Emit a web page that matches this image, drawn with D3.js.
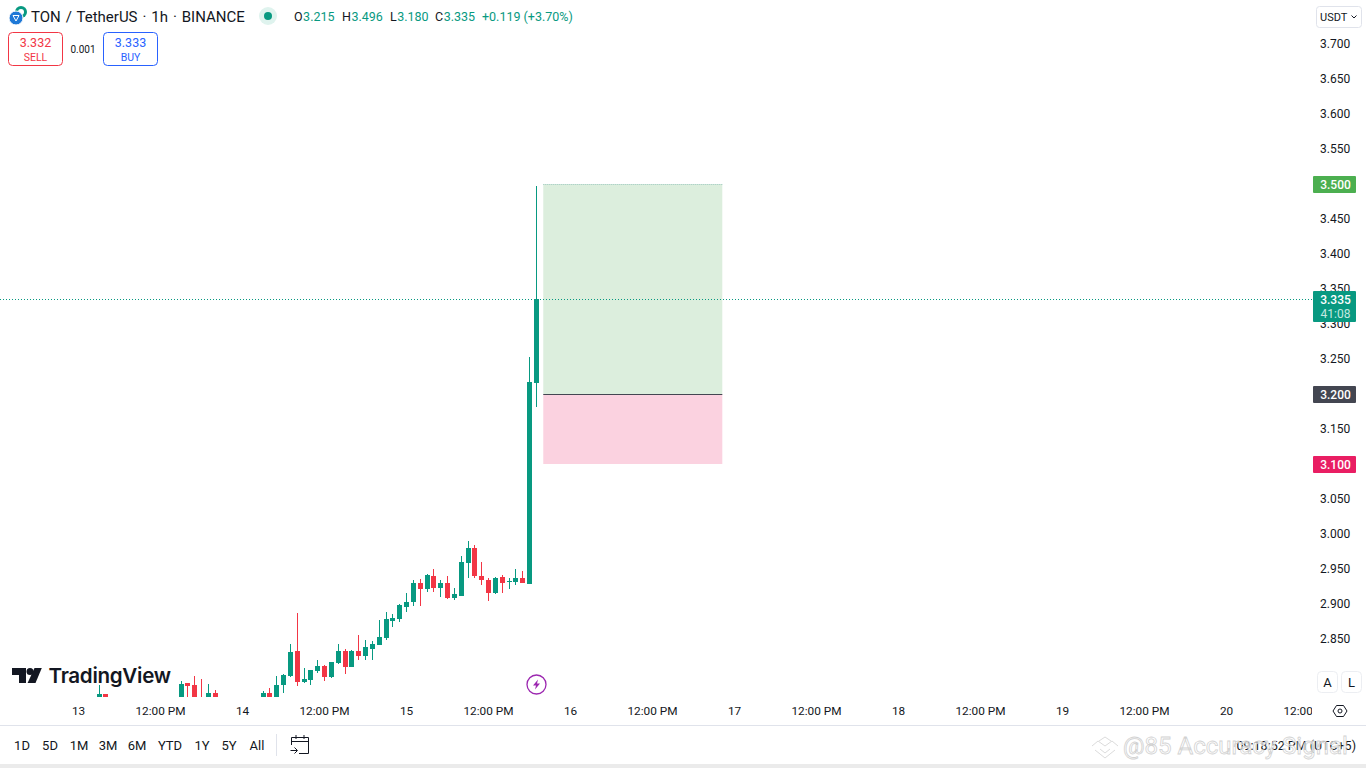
<!DOCTYPE html>
<html>
<head>
<meta charset="utf-8">
<script src="https://cdnjs.cloudflare.com/ajax/libs/d3/7.8.5/d3.min.js"></script>
<style>
  html, body { margin: 0; padding: 0; background: #fff; overflow: hidden; }
  svg { display: block; }
  text { font-family: Roboto, "Liberation Sans", sans-serif; }
</style>
</head>
<body>
<script>
// hours counted from 13th 00:00, only the candles that show above the time axis
const hours  = [3,4,15,16,17,18,19,20,27,28,29,30,31,32,33,34,35,36,37,38,39,40,41,42,43,44,45,46,47,48,49,50,51,52,53,54,55,56,57,58,59,60,61,62,63,64,65,66,67];
const opens  = [2.760,2.771,2.755,2.786,2.784,2.762,2.760,2.772,2.760,2.772,2.760,2.784,2.796,2.832,2.788,2.791,2.804,2.811,2.795,2.815,2.832,2.809,2.832,2.825,2.835,2.841,2.851,2.875,2.878,2.895,2.902,2.929,2.921,2.939,2.922,2.929,2.908,2.911,2.958,2.979,2.939,2.934,2.915,2.938,2.931,2.931,2.936,2.928,3.215];
const highs  = [2.784,2.771,2.789,2.786,2.796,2.792,2.785,2.776,2.775,2.779,2.796,2.799,2.842,2.886,2.808,2.805,2.819,2.812,2.816,2.842,2.835,2.834,2.855,2.848,2.846,2.876,2.888,2.885,2.899,2.915,2.934,2.935,2.942,2.949,2.934,2.939,2.922,2.968,2.989,2.984,2.959,2.936,2.938,2.941,2.936,2.949,2.946,3.252,3.496];
const lows   = [2.755,2.755,2.750,2.760,2.750,2.750,2.755,2.755,2.755,2.755,2.755,2.772,2.795,2.782,2.786,2.784,2.801,2.789,2.794,2.814,2.799,2.809,2.819,2.819,2.820,2.841,2.848,2.866,2.874,2.888,2.896,2.896,2.916,2.916,2.909,2.906,2.905,2.911,2.936,2.936,2.926,2.903,2.914,2.915,2.921,2.926,2.929,2.928,3.180];
const closes = [2.771,2.760,2.785,2.782,2.760,2.755,2.772,2.760,2.772,2.760,2.784,2.798,2.831,2.788,2.792,2.805,2.811,2.795,2.816,2.832,2.809,2.832,2.825,2.838,2.842,2.852,2.878,2.879,2.898,2.902,2.929,2.921,2.941,2.922,2.929,2.908,2.914,2.959,2.979,2.939,2.934,2.915,2.936,2.929,2.932,2.936,2.929,3.216,3.335];

const priceTicks = [2.85,2.90,2.95,3.00,3.05,3.10,3.15,3.20,3.25,3.30,3.35,3.40,3.45,3.50,3.55,3.60,3.65,3.70];
const timeTicks  = [0,12,24,36,48,60,72,84,96,108,120,132,144,156,168,180];
const timeLabels = ["13","12:00 PM","14","12:00 PM","15","12:00 PM","16","12:00 PM","17","12:00 PM","18","12:00 PM","19","12:00 PM","20","12:00 PM"];

const boxStart = 68, boxEnd = 94.2;
const entry = 3.2, target = 3.5, stop = 3.1, last = 3.335;
const rangeLabels = ["1D","5D","1M","3M","6M","YTD","1Y","5Y","All"];
const rangeX = [22,50,79,108,137,170,202,229,257];

const UP = "#089981", DOWN = "#f23645";

const svg = d3.select("body").append("svg").attr("width", 1366).attr("height", 768);

const x = d3.scaleLinear().domain([0, 24]).range([78.6, 242.6]);
const y = d3.scaleLinear().domain([2.85, 3.7]).range([638.5, 43.5]);
const py = v => Math.round(y(v) + 0.01);

svg.append("clipPath").attr("id", "pane").append("rect").attr("width", 1312).attr("height", 697);
svg.append("clipPath").attr("id", "timeclip").append("rect").attr("y", 697).attr("width", 1312).attr("height", 28);

const pane = svg.append("g").attr("clip-path", "url(#pane)");

// position tool
pane.append("rect").attr("x", x(boxStart)).attr("width", x(boxEnd) - x(boxStart))
  .attr("y", py(target)).attr("height", py(entry) - py(target)).attr("fill", "#dceedd");
pane.append("rect").attr("x", x(boxStart)).attr("width", x(boxEnd) - x(boxStart))
  .attr("y", py(entry)).attr("height", py(stop) - py(entry)).attr("fill", "#fbd2e0");
pane.append("line").attr("x1", x(boxStart)).attr("x2", x(boxEnd))
  .attr("y1", py(target) + .5).attr("y2", py(target) + .5)
  .attr("stroke", "#9fc9c0").attr("stroke-dasharray", "1 1");
pane.append("line").attr("x1", x(boxStart)).attr("x2", x(boxEnd))
  .attr("y1", py(entry) + .5).attr("y2", py(entry) + .5)
  .attr("stroke", "#434651");

// last price line
pane.append("line").attr("x1", 0).attr("x2", 1312)
  .attr("y1", Math.floor(y(last)) + .5).attr("y2", Math.floor(y(last)) + .5)
  .attr("stroke", UP).attr("stroke-dasharray", "1 2");

const candles = hours.map((h, i) => ({ h, o: opens[i], hi: highs[i], lo: lows[i], c: closes[i] }));
const color = d => d.c >= d.o ? UP : DOWN;

pane.selectAll("line.wick").data(candles).enter().append("line")
  .attr("class", "wick")
  .attr("x1", d => Math.floor(x(d.h)) + .5)
  .attr("x2", d => Math.floor(x(d.h)) + .5)
  .attr("y1", d => Math.round(y(d.hi)))
  .attr("y2", d => Math.round(y(d.lo)))
  .attr("stroke", color);

pane.selectAll("rect.body").data(candles).enter().append("rect")
  .attr("class", "body")
  .attr("x", d => Math.floor(x(d.h)) - 2)
  .attr("width", 5)
  .attr("y", d => Math.round(y(Math.max(d.o, d.c))))
  .attr("height", d => Math.max(1, Math.round(y(Math.min(d.o, d.c))) - Math.round(y(Math.max(d.o, d.c)))))
  .attr("fill", color);

// logo
const logo = svg.append("g").attr("fill", "#131722");
logo.append("path").attr("d", "M12 668H26V683H19V675H12Z");
logo.append("circle").attr("cx", 30).attr("cy", 671.5).attr("r", 3.5);
logo.append("path").attr("d", "M34.5 668H41.8L35.5 683H27.6Z");
logo.append("text").attr("x", 48.5).attr("y", 683).attr("font-size", 20.6).attr("font-weight", 600)
  .style("font-family", "Inter").attr("letter-spacing", -0.3).text("TradingView");

// lightning badge
const bolt = svg.append("g").attr("transform", "translate(536.5,684.5)");
bolt.append("circle").attr("r", 9.5).attr("fill", "#fff").attr("stroke", "#9c27b0").attr("stroke-width", 1.3);
bolt.append("path").attr("d", "M1.5 -5L-3.5 1H-0.5L-1.5 5L3.5 -1H0.5Z").attr("fill", "#9c27b0");

// axes
const yAxis = d3.axisRight(y).tickValues(priceTicks).tickSize(0).tickPadding(0).tickFormat(d3.format(".3f"));
const gy = svg.append("g").attr("transform", "translate(1320,0)").call(yAxis);
gy.select(".domain").remove();
gy.selectAll("text").attr("font-size", 12).attr("fill", "#131722").style("font-family", "Roboto");

const xAxis = d3.axisBottom(x).tickValues(timeTicks).tickSize(0).tickPadding(0)
  .tickFormat((d, i) => timeLabels[i]);
const gx = svg.append("g").attr("clip-path", "url(#timeclip)")
  .append("g").attr("transform", "translate(-0.6,707)").call(xAxis);
gx.select(".domain").remove();
gx.selectAll("text").attr("font-size", 11.8).attr("fill", "#131722").style("font-family", "Roboto");

// price tags
function tag(price, label, fill) {
  const yy = py(price);
  svg.append("rect").attr("x", 1313).attr("y", yy - 8).attr("width", 43).attr("height", 17).attr("rx", 1).attr("fill", fill);
  svg.append("text").attr("x", 1335.5).attr("y", yy + 4.5).attr("text-anchor", "middle")
    .attr("font-size", 12).attr("font-weight", 500).attr("fill", "#fff").text(label);
}
tag(target, "3.500", "#4caf50");
tag(entry, "3.200", "#434651");
tag(stop, "3.100", "#e91e63");

svg.append("rect").attr("x", 1313).attr("y", 291).attr("width", 43).attr("height", 31).attr("rx", 1).attr("fill", UP);
svg.append("text").attr("x", 1335.5).attr("y", 304).attr("text-anchor", "middle").attr("font-size", 12).attr("font-weight", 500).attr("fill", "#fff").text("3.335");
svg.append("text").attr("x", 1335.5).attr("y", 318).attr("text-anchor", "middle").attr("font-size", 12).attr("fill", "#c4e8e0").text("41:08");

// USDT button
svg.append("rect").attr("x", 1316.5).attr("y", 6.5).attr("width", 45).attr("height", 21).attr("rx", 3).attr("fill", "#fff").attr("stroke", "#e0e3eb");
svg.append("text").attr("x", 1320).attr("y", 21).attr("font-size", 11).attr("fill", "#131722").text("USDT");
svg.append("path").attr("d", "M1351.5 15.5L1354 18L1356.5 15.5").attr("fill", "none").attr("stroke", "#131722");

// A / L buttons
[["A", 1317], ["L", 1341]].forEach(([t, bx]) => {
  svg.append("rect").attr("x", bx + .5).attr("y", 671.5).attr("width", 20).attr("height", 21).attr("rx", 4).attr("fill", "#fff").attr("stroke", "#eceef2");
  svg.append("text").attr("x", bx + 10.5).attr("y", 686.5).attr("text-anchor", "middle").attr("font-size", 13).attr("fill", "#131722").text(t);
});

// settings hexagon
const gear = svg.append("g").attr("transform", "translate(1340,711)").attr("fill", "none").attr("stroke", "#131722");
gear.append("path").attr("d", "M-7 0L-3.5 -5.5H3.5L7 0L3.5 5.5H-3.5Z");
gear.append("circle").attr("r", 2);

// header
const iconG = svg.append("g").attr("transform", "translate(17,17)");
iconG.append("circle").attr("cx", 4).attr("cy", -5).attr("r", 6).attr("fill", "#089981");
iconG.append("circle").attr("cx", 4).attr("cy", -5).attr("r", 3).attr("fill", "#fff");
iconG.append("circle").attr("cx", -1).attr("cy", 1).attr("r", 7).attr("fill", "#1e78d6").attr("stroke", "#fff");
iconG.append("path").attr("d", "M-4 -1.5H2L-1 4Z").attr("fill", "none").attr("stroke", "#fff");

svg.append("text").attr("x", 31).attr("y", 21.5).attr("font-size", 15).attr("word-spacing", 1.2).attr("fill", "#131722").text("TON / TetherUS · 1h · BINANCE");
svg.append("circle").attr("cx", 268).attr("cy", 16).attr("r", 9).attr("fill", "#dff3ee");
svg.append("circle").attr("cx", 268).attr("cy", 16).attr("r", 4).attr("fill", UP);

const ohlc = [["O", "3.215", 294], ["H", "3.496", 342], ["L", "3.180", 390], ["C", "3.335", 435]];
ohlc.forEach(([k, v, tx]) => {
  const t = svg.append("text").attr("x", tx).attr("y", 21).attr("font-size", 12.5);
  t.append("tspan").attr("fill", "#131722").text(k);
  t.append("tspan").attr("fill", UP).attr("dx", 0.5).text(v);
});
svg.append("text").attr("x", 482).attr("y", 21).attr("font-size", 12.5).attr("fill", UP).text("+0.119 (+3.70%)");

// sell / buy
[["3.332", "SELL", 8, DOWN], ["3.333", "BUY", 103, "#2962ff"]].forEach(([p, l, bx, col]) => {
  svg.append("rect").attr("x", bx + .5).attr("y", 32.5).attr("width", 54).attr("height", 33).attr("rx", 4).attr("fill", "#fff").attr("stroke", col);
  svg.append("text").attr("x", bx + 27.5).attr("y", 47).attr("text-anchor", "middle").attr("font-size", 12.5).attr("fill", col).text(p);
  svg.append("text").attr("x", bx + 27.5).attr("y", 61).attr("text-anchor", "middle").attr("font-size", 10.5).attr("fill", col).text(l);
});
svg.append("text").attr("x", 83).attr("y", 52.5).attr("text-anchor", "middle").attr("font-size", 10).attr("fill", "#131722").text("0.001");

// bottom bar
svg.append("line").attr("x1", 0).attr("x2", 1366).attr("y1", 725.5).attr("y2", 725.5).attr("stroke", "#e0e3eb");
svg.append("rect").attr("y", 764).attr("width", 1366).attr("height", 4).attr("fill", "#ebebeb");
svg.selectAll("text.range").data(rangeLabels).enter().append("text")
  .attr("class", "range")
  .attr("x", (d, i) => rangeX[i]).attr("y", 750)
  .attr("text-anchor", "middle").attr("font-size", 13).attr("fill", "#131722")
  .text(d => d);
svg.append("line").attr("x1", 276.5).attr("x2", 276.5).attr("y1", 734).attr("y2", 756).attr("stroke", "#e0e3eb");
svg.append("path").attr("fill", "none").attr("stroke", "#131722")
  .attr("d", "M291.5 745V737.5H308.5V753.5H299M291.5 741.5H308.5M296 735V739M304 735V739M290.5 750.5H297M294.5 747.5L297.5 750.5L294.5 753.5");

// clock, then the repost watermark over it
svg.append("text").attr("x", 1356).attr("y", 750).attr("text-anchor", "end").attr("font-size", 12.5).attr("fill", "#131722").text("09:18:52 PM (UTC+5)");
const wm = svg.append("g").attr("fill", "none").attr("stroke", "#d2d2d2").attr("stroke-width", 0.8);
wm.append("path").attr("d", "M1099 741L1105 737L1111 741M1092 746L1098 741L1105 746L1112 741L1118 746M1100 749L1105 753L1110 749M1095 750L1105 758L1115 750");
wm.append("text").attr("x", 1123).attr("y", 754).attr("font-size", 24).attr("fill", "#fff").attr("fill-opacity", 0.55).text("@85 Accuracy Signal");
</script>
</body>
</html>
